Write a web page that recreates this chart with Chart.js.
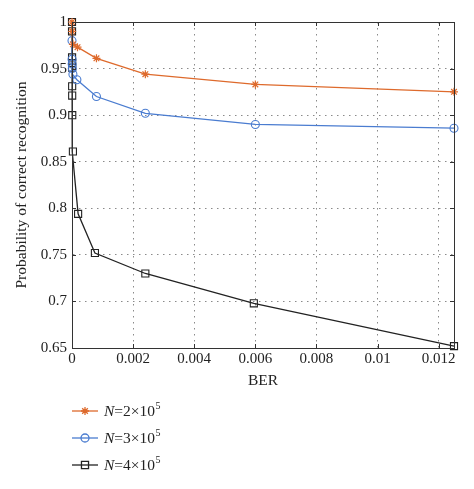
<!DOCTYPE html>
<html>
<head>
<meta charset="utf-8">
<script src="https://cdn.jsdelivr.net/npm/chart.js@4.4.1/dist/chart.umd.min.js"></script>
<style>
  html, body { margin: 0; padding: 0; background: #fff; }
  #wrap { width: 474px; height: 489px; position: relative; }
</style>
</head>
<body>
<div id="wrap"><canvas id="berChart" width="474" height="489"></canvas></div>
<script>
// data
const berN2 = [0, 0.000005, 0.00003, 0.00018, 0.0008, 0.0024, 0.006, 0.0125];
const probN2 = [1, 0.99, 0.976, 0.973, 0.961, 0.944, 0.933, 0.925];

const berN3 = [0, 0.000003, 0.000006, 0.00001, 0.00003, 0.00016, 0.0008, 0.0024, 0.006, 0.0125];
const probN3 = [0.98, 0.96, 0.955, 0.95, 0.944, 0.938, 0.92, 0.902, 0.89, 0.886];

const berN4 = [0, 0.000001, 0.000002, 0.000003, 0.000004, 0.000005, 0.000006, 0.000008, 0.00003, 0.0002, 0.00075, 0.0024, 0.00595, 0.0125];
const probN4 = [1, 0.99, 0.962, 0.956, 0.951, 0.931, 0.921, 0.9, 0.861, 0.794, 0.752, 0.730, 0.698, 0.652];

const xTicks = [0, 0.002, 0.004, 0.006, 0.008, 0.01, 0.012];
const yTicks = [0.65, 0.7, 0.75, 0.8, 0.85, 0.9, 0.95, 1];
const legendLabels = [['2', '5'], ['3', '5'], ['4', '5']];

const serif = "'Liberation Serif', 'Times New Roman', serif";
const orange = '#de6a2c';
const blue = '#4a7cd0';
const black = '#222222';

function toPoints(xs, ys) {
    return xs.map((x, i) => ({ x: x, y: ys[i] }));
}

// frame, inner ticks, axis titles and legend
const extrasPlugin = {
    id: 'extras',
    afterDatasetsDraw(chart) {
        const ctx = chart.ctx;
        const a = chart.chartArea;
        const xs = chart.scales.x, ys = chart.scales.y;
        ctx.save();
        ctx.strokeStyle = '#333';
        ctx.lineWidth = 1;
        ctx.beginPath();
        xTicks.forEach(t => {
            const px = Math.round(xs.getPixelForValue(t)) + 0.5;
            ctx.moveTo(px, a.bottom); ctx.lineTo(px, a.bottom - 4);
            ctx.moveTo(px, a.top); ctx.lineTo(px, a.top + 4);
        });
        yTicks.forEach(t => {
            const py = Math.round(ys.getPixelForValue(t)) + 0.5;
            ctx.moveTo(a.left, py); ctx.lineTo(a.left + 4, py);
            ctx.moveTo(a.right, py); ctx.lineTo(a.right - 4, py);
        });
        ctx.stroke();
        ctx.strokeRect(Math.round(a.left) + 0.5, Math.round(a.top) + 0.5,
            Math.round(a.right - a.left), Math.round(a.bottom - a.top));
        ctx.restore();
    },
    afterDraw(chart) {
        const ctx = chart.ctx;
        const a = chart.chartArea;
        ctx.save();
        ctx.fillStyle = '#222';
        ctx.font = '15.5px ' + serif;
        ctx.textAlign = 'center';
        ctx.textBaseline = 'middle';
        ctx.fillText('BER', (a.left + a.right) / 2, 381);

        ctx.save();
        ctx.translate(22, (a.top + a.bottom) / 2);
        ctx.rotate(-Math.PI / 2);
        ctx.fillText('Probability of correct recognition', 0, 0);
        ctx.restore();

        // legend
        const rows = [411, 438, 465];
        chart.data.datasets.forEach((ds, i) => {
            const y = rows[i];
            ctx.strokeStyle = ds.borderColor;
            ctx.lineWidth = 1.3;
            ctx.beginPath();
            ctx.moveTo(72, y); ctx.lineTo(98, y);
            ctx.stroke();
            ctx.fillStyle = ds.backgroundColor;
            Chart.helpers.drawPoint(ctx, {
                pointStyle: ds.pointStyle,
                radius: ds.pointRadius,
                borderWidth: 1.2,
                rotation: 0
            }, 85, y);
            ctx.fillStyle = '#222';
            ctx.textAlign = 'left';
            ctx.textBaseline = 'alphabetic';
            let x = 104;
            ctx.font = 'italic 15.5px ' + serif;
            ctx.fillText('N', x, y + 5);
            x += ctx.measureText('N').width;
            ctx.font = '15.5px ' + serif;
            const base = '=' + legendLabels[i][0] + '×10';
            ctx.fillText(base, x, y + 5);
            x += ctx.measureText(base).width;
            ctx.font = '10px ' + serif;
            ctx.fillText(legendLabels[i][1], x + 0.5, y - 2);
        });
        ctx.restore();
    }
};

const ctx = document.getElementById('berChart').getContext('2d');
const berChart = new Chart(ctx, {
    type: 'line',
    data: {
        datasets: [
            {
                label: 'N=2×10^5',
                data: toPoints(berN2, probN2),
                borderColor: orange,
                backgroundColor: orange,
                pointStyle: 'star',
                pointRadius: 4,
                pointBorderWidth: 1.2
            },
            {
                label: 'N=3×10^5',
                data: toPoints(berN3, probN3),
                borderColor: blue,
                backgroundColor: 'rgba(0,0,0,0)',
                pointStyle: 'circle',
                pointRadius: 4,
                pointBorderWidth: 1.1
            },
            {
                label: 'N=4×10^5',
                data: toPoints(berN4, probN4),
                borderColor: black,
                backgroundColor: 'rgba(0,0,0,0)',
                pointStyle: 'rect',
                pointRadius: 5,
                pointBorderWidth: 1.1
            }
        ]
    },
    options: {
        responsive: false,
        animation: false,
        devicePixelRatio: 1,
        elements: {
            line: { borderWidth: 1.3, tension: 0, fill: false },
            point: { hoverRadius: 5 }
        },
        datasets: { line: { clip: false } },
        layout: { padding: { left: 0, right: 20, top: 22, bottom: 0 } },
        plugins: {
            legend: { display: false },
            tooltip: { enabled: false }
        },
        scales: {
            x: {
                type: 'linear',
                min: 0,
                max: 0.0125,
                afterBuildTicks: s => { s.ticks = xTicks.map(v => ({ value: v })); },
                afterFit: s => { s.height = 141; },
                ticks: {
                    font: { family: serif, size: 15 },
                    color: '#222',
                    padding: 2,
                    maxRotation: 0,
                    callback: v => String(parseFloat(v.toFixed(4)))
                },
                grid: {
                    color: '#8a8a8a',
                    lineWidth: 1,
                    drawTicks: false
                },
                border: { display: true, color: '#333', dash: [1.5, 4.5] }
            },
            y: {
                type: 'linear',
                min: 0.65,
                max: 1,
                afterBuildTicks: s => { s.ticks = yTicks.map(v => ({ value: v })); },
                afterFit: s => { s.width = 72; },
                ticks: {
                    font: { family: serif, size: 15 },
                    color: '#222',
                    padding: 5,
                    callback: v => String(parseFloat(v.toFixed(3)))
                },
                grid: {
                    color: '#8a8a8a',
                    lineWidth: 1,
                    drawTicks: false
                },
                border: { display: true, color: '#333', dash: [1.5, 4.5] }
            }
        }
    },
    plugins: [extrasPlugin]
});
</script>
</body>
</html>
